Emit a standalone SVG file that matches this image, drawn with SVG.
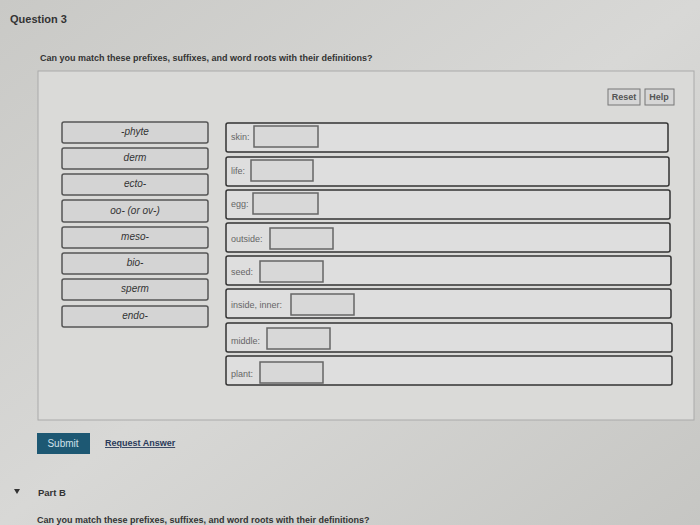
<svg xmlns="http://www.w3.org/2000/svg" width="700" height="525" viewBox="0 0 700 525">
<defs>
<style>
text{font-family:"Liberation Sans",Arial,sans-serif;fill:#333}
.tile rect{fill:#d4d4d4;stroke:#555;stroke-width:1.5}
.tile text{font-size:10px;font-style:italic;text-anchor:middle}
.row rect.r{fill:#dedede;stroke:#333;stroke-width:1.5}
.row rect.i{fill:#d8d8d8;stroke:#666;stroke-width:1.5}
.row text{font-size:9px;fill:#666}
.btn rect{fill:#d6d6d6;stroke:#777}
.btn text{font-size:9px;font-weight:bold;text-anchor:middle;fill:#555}
</style>
<linearGradient id="bg" x1="0" y1="0" x2="1" y2="1">
<stop offset="0" stop-color="#c9c9c6"/><stop offset="0.5" stop-color="#d8d8d6"/><stop offset="1" stop-color="#c6c6c3"/>
</linearGradient>
</defs>
<rect width="700" height="525" fill="url(#bg)"/>
<text x="10" y="23" font-size="11" font-weight="bold">Question 3</text>
<text x="40" y="61" font-size="9" font-weight="bold">Can you match these prefixes, suffixes, and word roots with their definitions?</text>
<rect x="38" y="71" width="656" height="349" fill="#dadad8" stroke="#aaa"/>
<g id="reset" class="btn"><rect x="608" y="89" width="32" height="16"/><text x="624" y="100">Reset</text></g>
<g id="help" class="btn"><rect x="645" y="89" width="29" height="16"/><text x="659" y="100">Help</text></g>
<g id="t1" class="tile"><rect x="62" y="122" width="146" height="21" rx="2"/><text x="135" y="135">-phyte</text></g>
<g id="t2" class="tile"><rect x="62" y="148" width="146" height="21" rx="2"/><text x="135" y="161">derm</text></g>
<g id="t3" class="tile"><rect x="62" y="174" width="146" height="21" rx="2"/><text x="135" y="187">ecto-</text></g>
<g id="t4" class="tile"><rect x="62" y="200" width="146" height="22" rx="2"/><text x="135" y="214">oo- (or ov-)</text></g>
<g id="t5" class="tile"><rect x="62" y="227" width="146" height="21" rx="2"/><text x="135" y="240">meso-</text></g>
<g id="t6" class="tile"><rect x="62" y="253" width="146" height="21" rx="2"/><text x="135" y="266">bio-</text></g>
<g id="t7" class="tile"><rect x="62" y="279" width="146" height="21" rx="2"/><text x="135" y="292">sperm</text></g>
<g id="t8" class="tile"><rect x="62" y="306" width="146" height="21" rx="2"/><text x="135" y="319">endo-</text></g>
<g id="r1" class="row"><rect class="r" x="226" y="123" width="442" height="29" rx="2"/><text x="231" y="140">skin:</text><rect class="i" x="254" y="126" width="64" height="21"/></g>
<g id="r2" class="row"><rect class="r" x="226" y="157" width="443" height="29" rx="2"/><text x="231" y="174">life:</text><rect class="i" x="251" y="160" width="62" height="21"/></g>
<g id="r3" class="row"><rect class="r" x="226" y="190" width="444" height="29" rx="2"/><text x="231" y="207">egg:</text><rect class="i" x="253" y="193" width="65" height="21"/></g>
<g id="r4" class="row"><rect class="r" x="226" y="223" width="444" height="29" rx="2"/><text x="231" y="242">outside:</text><rect class="i" x="270" y="228" width="63" height="21"/></g>
<g id="r5" class="row"><rect class="r" x="226" y="256" width="445" height="29" rx="2"/><text x="231" y="275">seed:</text><rect class="i" x="260" y="261" width="63" height="21"/></g>
<g id="r6" class="row"><rect class="r" x="226" y="289" width="445" height="29" rx="2"/><text x="231" y="308">inside, inner:</text><rect class="i" x="291" y="294" width="63" height="21"/></g>
<g id="r7" class="row"><rect class="r" x="226" y="323" width="446" height="29" rx="2"/><text x="231" y="344">middle:</text><rect class="i" x="267" y="328" width="63" height="21"/></g>
<g id="r8" class="row"><rect class="r" x="226" y="356" width="446" height="29" rx="2"/><text x="231" y="377">plant:</text><rect class="i" x="260" y="362" width="63" height="21"/></g>
<g id="connectors"/>
<rect x="37" y="433" width="53" height="21" fill="#1d5873"/>
<text x="63" y="447" font-size="10" style="fill:#cfe0ea" text-anchor="middle">Submit</text>
<text x="105" y="446" font-size="9" font-weight="bold" style="fill:#2a3a5a" text-decoration="underline">Request Answer</text>
<path d="M14 489 L20 489 L17 494 Z" fill="#333"/>
<text x="38" y="496" font-size="9.5" font-weight="bold">Part B</text>
<text x="37" y="523" font-size="9" font-weight="bold">Can you match these prefixes, suffixes, and word roots with their definitions?</text>
</svg>
